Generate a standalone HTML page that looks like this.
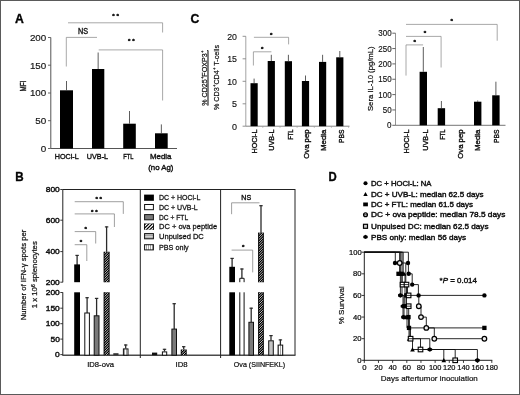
<!DOCTYPE html>
<html lang="en"><head><meta charset="utf-8"><title>Figure</title>
<style>
html,body{margin:0;padding:0;background:#fff;}
svg{display:block;font-family:"Liberation Sans",sans-serif;}
text{stroke:#111;stroke-width:0.38px;}
</style></head><body>
<svg width="520" height="395" viewBox="0 0 520 395">
<defs>
<pattern id="hatch" patternUnits="userSpaceOnUse" width="2" height="1.6" patternTransform="rotate(-40)"><rect width="2" height="1.6" fill="#c8c8c8"/><rect width="2" height="1.05" fill="#000"/></pattern>
<pattern id="vl" patternUnits="userSpaceOnUse" width="2" height="2"><rect width="2" height="2" fill="#fff"/><rect width="0.6" height="2" fill="#666"/></pattern>
<pattern id="hl" patternUnits="userSpaceOnUse" width="2" height="1.6"><rect width="2" height="1.6" fill="#ddd"/><rect width="2" height="0.6" fill="#888"/></pattern>
</defs>
<rect x="0.5" y="0.5" width="519" height="394" fill="#fff" stroke="#5a5a5a" stroke-width="1"/>
<text x="15" y="22.7" font-size="13" textLength="8.8" lengthAdjust="spacingAndGlyphs" font-weight="bold" fill="#000">A</text>
<line x1="50.8" y1="37.5" x2="50.8" y2="148.5" stroke="#555" stroke-width="1" />
<line x1="50.8" y1="148.5" x2="177" y2="148.5" stroke="#555" stroke-width="1" />
<line x1="48" y1="37.5" x2="50.8" y2="37.5" stroke="#555" stroke-width="0.9" />
<text x="46.3" y="40.9" font-size="9.6" text-anchor="end" textLength="16.4" lengthAdjust="spacingAndGlyphs" style="stroke-width:0.15px" fill="#111">200</text>
<line x1="48" y1="65.2" x2="50.8" y2="65.2" stroke="#555" stroke-width="0.9" />
<text x="46.3" y="68.60000000000001" font-size="9.6" text-anchor="end" textLength="16.4" lengthAdjust="spacingAndGlyphs" style="stroke-width:0.15px" fill="#111">150</text>
<line x1="48" y1="93" x2="50.8" y2="93" stroke="#555" stroke-width="0.9" />
<text x="46.3" y="96.4" font-size="9.6" text-anchor="end" textLength="16.4" lengthAdjust="spacingAndGlyphs" style="stroke-width:0.15px" fill="#111">100</text>
<line x1="48" y1="120.7" x2="50.8" y2="120.7" stroke="#555" stroke-width="0.9" />
<text x="46.3" y="124.10000000000001" font-size="9.6" text-anchor="end" textLength="11" lengthAdjust="spacingAndGlyphs" style="stroke-width:0.15px" fill="#111">50</text>
<line x1="48" y1="148.5" x2="50.8" y2="148.5" stroke="#555" stroke-width="0.9" />
<text x="46.3" y="151.9" font-size="9.6" text-anchor="end" textLength="5.5" lengthAdjust="spacingAndGlyphs" style="stroke-width:0.15px" fill="#111">0</text>
<text x="26" y="86" font-size="8.4" text-anchor="middle" textLength="11" lengthAdjust="spacingAndGlyphs" transform="rotate(-90 26 86)" fill="#111">MFI</text>
<rect x="60.00" y="90.30" width="13.00" height="58.20" fill="#000" stroke="none" stroke-width="1"/>
<line x1="66.5" y1="81" x2="66.5" y2="90.3" stroke="#333" stroke-width="0.8" />
<rect x="92.00" y="69.00" width="12.30" height="79.50" fill="#000" stroke="none" stroke-width="1"/>
<line x1="98.15" y1="52.5" x2="98.15" y2="69" stroke="#333" stroke-width="0.8" />
<rect x="123.20" y="123.70" width="12.60" height="24.80" fill="#000" stroke="none" stroke-width="1"/>
<line x1="129.5" y1="111" x2="129.5" y2="123.7" stroke="#333" stroke-width="0.8" />
<rect x="155.00" y="133.30" width="12.70" height="15.20" fill="#000" stroke="none" stroke-width="1"/>
<line x1="161.35" y1="124.4" x2="161.35" y2="133.3" stroke="#333" stroke-width="0.8" />
<text x="54.7" y="159.3" font-size="7.7" textLength="24.0" lengthAdjust="spacingAndGlyphs" fill="#111">HOCl-L</text>
<text x="86.8" y="159.3" font-size="7.7" textLength="21.3" lengthAdjust="spacingAndGlyphs" fill="#111">UVB-L</text>
<text x="123.2" y="159.3" font-size="7.7" textLength="10.3" lengthAdjust="spacingAndGlyphs" fill="#111">FTL</text>
<text x="150" y="159.3" font-size="7.7" textLength="21.5" lengthAdjust="spacingAndGlyphs" fill="#111">Media</text>
<text x="148.2" y="169.5" font-size="7.7" textLength="25.3" lengthAdjust="spacingAndGlyphs" fill="#111">(no Ag)</text>
<polyline points="68,22.8 162.6,22.8 162.6,32.5" fill="none" stroke="#7a7a7a" stroke-width="0.65"/>
<polyline points="66.3,66.5 66.3,37.4 97,37.4" fill="none" stroke="#7a7a7a" stroke-width="0.65"/>
<polyline points="98.7,49.9 162.6,49.9 162.6,100.5" fill="none" stroke="#7a7a7a" stroke-width="0.65"/>
<text x="83" y="34" font-size="8.2" text-anchor="middle" textLength="10" lengthAdjust="spacingAndGlyphs" fill="#111">NS</text>
<text x="113.5" y="18.0" font-size="6.2" text-anchor="middle" font-weight="bold" fill="#000">*</text>
<text x="117.7" y="18.0" font-size="6.2" text-anchor="middle" font-weight="bold" fill="#000">*</text>
<text x="129.3" y="42.6" font-size="6.2" text-anchor="middle" font-weight="bold" fill="#000">*</text>
<text x="133.5" y="42.6" font-size="6.2" text-anchor="middle" font-weight="bold" fill="#000">*</text>
<text x="190.4" y="22.8" font-size="13" textLength="8.8" lengthAdjust="spacingAndGlyphs" font-weight="bold" fill="#000">C</text>
<line x1="245.8" y1="36.3" x2="245.8" y2="126.2" stroke="#8c8c8c" stroke-width="0.8" />
<line x1="245.8" y1="126.2" x2="349.5" y2="126.2" stroke="#777" stroke-width="0.9" />
<line x1="242.6" y1="36.3" x2="245.8" y2="36.3" stroke="#777" stroke-width="0.8" />
<text x="237" y="39.699999999999996" font-size="9.6" text-anchor="end" textLength="9.8" lengthAdjust="spacingAndGlyphs" style="stroke-width:0.15px" fill="#111">20</text>
<line x1="242.6" y1="58.8" x2="245.8" y2="58.8" stroke="#777" stroke-width="0.8" />
<text x="237" y="62.199999999999996" font-size="9.6" text-anchor="end" textLength="9.8" lengthAdjust="spacingAndGlyphs" style="stroke-width:0.15px" fill="#111">15</text>
<line x1="242.6" y1="81.3" x2="245.8" y2="81.3" stroke="#777" stroke-width="0.8" />
<text x="237" y="84.7" font-size="9.6" text-anchor="end" textLength="9.8" lengthAdjust="spacingAndGlyphs" style="stroke-width:0.15px" fill="#111">10</text>
<line x1="242.6" y1="103.8" x2="245.8" y2="103.8" stroke="#777" stroke-width="0.8" />
<text x="237" y="107.2" font-size="9.6" text-anchor="end" textLength="5" lengthAdjust="spacingAndGlyphs" style="stroke-width:0.15px" fill="#111">5</text>
<line x1="242.6" y1="126.2" x2="245.8" y2="126.2" stroke="#777" stroke-width="0.8" />
<text x="237" y="129.6" font-size="9.6" text-anchor="end" textLength="5" lengthAdjust="spacingAndGlyphs" style="stroke-width:0.15px" fill="#111">0</text>
<text x="206.6" y="78.2" font-size="8" text-anchor="middle" textLength="55" lengthAdjust="spacingAndGlyphs" transform="rotate(-90 206.6 78.2)" style="text-decoration:underline;stroke-width:0.22px" fill="#111">% CD25⁺FOXP3⁺</text>
<text x="218.6" y="77.5" font-size="8" text-anchor="middle" textLength="65" lengthAdjust="spacingAndGlyphs" transform="rotate(-90 218.6 77.5)" style="stroke-width:0.22px" fill="#111">% CD3⁺CD4⁺ T-cells</text>
<rect x="250.50" y="83.20" width="7.20" height="43.00" fill="#000" stroke="none" stroke-width="1"/>
<line x1="254.1" y1="78.6" x2="254.1" y2="83.2" stroke="#333" stroke-width="0.8" />
<rect x="267.70" y="61.00" width="7.20" height="65.20" fill="#000" stroke="none" stroke-width="1"/>
<line x1="271.3" y1="54.8" x2="271.3" y2="61" stroke="#333" stroke-width="0.8" />
<rect x="284.80" y="61.20" width="7.20" height="65.00" fill="#000" stroke="none" stroke-width="1"/>
<line x1="288.40000000000003" y1="54.8" x2="288.40000000000003" y2="61.2" stroke="#333" stroke-width="0.8" />
<rect x="301.90" y="81.00" width="7.20" height="45.20" fill="#000" stroke="none" stroke-width="1"/>
<line x1="305.5" y1="75.5" x2="305.5" y2="81" stroke="#333" stroke-width="0.8" />
<rect x="319.00" y="61.90" width="7.20" height="64.30" fill="#000" stroke="none" stroke-width="1"/>
<line x1="322.6" y1="54.8" x2="322.6" y2="61.9" stroke="#333" stroke-width="0.8" />
<rect x="336.20" y="57.30" width="7.20" height="68.90" fill="#000" stroke="none" stroke-width="1"/>
<line x1="339.8" y1="51" x2="339.8" y2="57.3" stroke="#333" stroke-width="0.8" />
<text x="256.8" y="129.5" font-size="7.7" text-anchor="end" textLength="24" lengthAdjust="spacingAndGlyphs" transform="rotate(-90 256.8 129.5)" fill="#111">HOCl-L</text>
<text x="274.3" y="129.5" font-size="7.7" text-anchor="end" textLength="21.3" lengthAdjust="spacingAndGlyphs" transform="rotate(-90 274.3 129.5)" fill="#111">UVB-L</text>
<text x="292.6" y="129.5" font-size="7.7" text-anchor="end" textLength="10.3" lengthAdjust="spacingAndGlyphs" transform="rotate(-90 292.6 129.5)" fill="#111">FTL</text>
<text x="308.8" y="129.5" font-size="7.7" text-anchor="end" textLength="29.2" lengthAdjust="spacingAndGlyphs" transform="rotate(-90 308.8 129.5)" fill="#111">Ova pep</text>
<text x="325.8" y="129.5" font-size="7.7" text-anchor="end" textLength="21.5" lengthAdjust="spacingAndGlyphs" transform="rotate(-90 325.8 129.5)" fill="#111">Media</text>
<text x="343.8" y="129.5" font-size="7.7" text-anchor="end" textLength="13.5" lengthAdjust="spacingAndGlyphs" transform="rotate(-90 343.8 129.5)" fill="#111">PBS</text>
<line x1="262.8" y1="126.2" x2="262.8" y2="127.8" stroke="#999" stroke-width="0.7" />
<line x1="280" y1="126.2" x2="280" y2="127.8" stroke="#999" stroke-width="0.7" />
<line x1="297.1" y1="126.2" x2="297.1" y2="127.8" stroke="#999" stroke-width="0.7" />
<line x1="314.3" y1="126.2" x2="314.3" y2="127.8" stroke="#999" stroke-width="0.7" />
<line x1="331.4" y1="126.2" x2="331.4" y2="127.8" stroke="#999" stroke-width="0.7" />
<line x1="348.6" y1="126.2" x2="348.6" y2="127.8" stroke="#999" stroke-width="0.7" />
<polyline points="253.9,37.3 288.6,37.3 288.6,44.4" fill="none" stroke="#7a7a7a" stroke-width="0.65"/>
<polyline points="253.4,65.5 253.4,51.8 271.4,51.8" fill="none" stroke="#7a7a7a" stroke-width="0.65"/>
<text x="262.3" y="50.5" font-size="6.2" text-anchor="middle" font-weight="bold" fill="#000">*</text>
<text x="271.2" y="37.0" font-size="6.2" text-anchor="middle" font-weight="bold" fill="#000">*</text>
<line x1="395.5" y1="33.2" x2="395.5" y2="125.3" stroke="#777" stroke-width="0.8" />
<line x1="395.5" y1="125.3" x2="505.5" y2="125.3" stroke="#666" stroke-width="0.9" />
<line x1="392.3" y1="33.2" x2="395.5" y2="33.2" stroke="#555" stroke-width="0.9" />
<text x="391.6" y="36.300000000000004" font-size="8.8" text-anchor="end" textLength="13.3" lengthAdjust="spacingAndGlyphs" style="stroke-width:0.15px" fill="#111">300</text>
<line x1="392.3" y1="48.550000000000004" x2="395.5" y2="48.550000000000004" stroke="#555" stroke-width="0.9" />
<text x="391.6" y="51.650000000000006" font-size="8.8" text-anchor="end" textLength="13.3" lengthAdjust="spacingAndGlyphs" style="stroke-width:0.15px" fill="#111">250</text>
<line x1="392.3" y1="63.900000000000006" x2="395.5" y2="63.900000000000006" stroke="#555" stroke-width="0.9" />
<text x="391.6" y="67.0" font-size="8.8" text-anchor="end" textLength="13.3" lengthAdjust="spacingAndGlyphs" style="stroke-width:0.15px" fill="#111">200</text>
<line x1="392.3" y1="79.25" x2="395.5" y2="79.25" stroke="#555" stroke-width="0.9" />
<text x="391.6" y="82.35" font-size="8.8" text-anchor="end" textLength="13.3" lengthAdjust="spacingAndGlyphs" style="stroke-width:0.15px" fill="#111">150</text>
<line x1="392.3" y1="94.6" x2="395.5" y2="94.6" stroke="#555" stroke-width="0.9" />
<text x="391.6" y="97.69999999999999" font-size="8.8" text-anchor="end" textLength="13.3" lengthAdjust="spacingAndGlyphs" style="stroke-width:0.15px" fill="#111">100</text>
<line x1="392.3" y1="109.95" x2="395.5" y2="109.95" stroke="#555" stroke-width="0.9" />
<text x="391.6" y="113.05" font-size="8.8" text-anchor="end" textLength="8.9" lengthAdjust="spacingAndGlyphs" style="stroke-width:0.15px" fill="#111">50</text>
<line x1="392.3" y1="125.3" x2="395.5" y2="125.3" stroke="#555" stroke-width="0.9" />
<text x="391.6" y="128.4" font-size="8.8" text-anchor="end" textLength="4.5" lengthAdjust="spacingAndGlyphs" style="stroke-width:0.15px" fill="#111">0</text>
<text x="373" y="78.7" font-size="8" text-anchor="middle" textLength="64.6" lengthAdjust="spacingAndGlyphs" transform="rotate(-90 373 78.7)" style="stroke-width:0.22px" fill="#111">Sera IL-10 (pg/mL)</text>
<rect x="419.60" y="71.80" width="7.40" height="53.50" fill="#000" stroke="none" stroke-width="1"/>
<line x1="423.3" y1="47" x2="423.3" y2="71.8" stroke="#333" stroke-width="0.8" />
<rect x="437.70" y="108.20" width="7.40" height="17.10" fill="#000" stroke="none" stroke-width="1"/>
<line x1="441.4" y1="101" x2="441.4" y2="108.2" stroke="#333" stroke-width="0.8" />
<rect x="474.00" y="101.70" width="7.40" height="23.60" fill="#000" stroke="none" stroke-width="1"/>
<line x1="477.7" y1="100.5" x2="477.7" y2="101.7" stroke="#333" stroke-width="0.8" />
<rect x="492.20" y="95.30" width="7.40" height="30.00" fill="#000" stroke="none" stroke-width="1"/>
<line x1="495.9" y1="81.7" x2="495.9" y2="95.3" stroke="#333" stroke-width="0.8" />
<text x="409.3" y="129.5" font-size="7.7" text-anchor="end" textLength="24" lengthAdjust="spacingAndGlyphs" transform="rotate(-90 409.3 129.5)" fill="#111">HOCl-L</text>
<text x="427.6" y="129.5" font-size="7.7" text-anchor="end" textLength="21.3" lengthAdjust="spacingAndGlyphs" transform="rotate(-90 427.6 129.5)" fill="#111">UVB-L</text>
<text x="445.20000000000005" y="129.5" font-size="7.7" text-anchor="end" textLength="10.3" lengthAdjust="spacingAndGlyphs" transform="rotate(-90 445.20000000000005 129.5)" fill="#111">FTL</text>
<text x="463.3" y="129.5" font-size="7.7" text-anchor="end" textLength="29.2" lengthAdjust="spacingAndGlyphs" transform="rotate(-90 463.3 129.5)" fill="#111">Ova pep</text>
<text x="480.20000000000005" y="129.5" font-size="7.7" text-anchor="end" textLength="21.5" lengthAdjust="spacingAndGlyphs" transform="rotate(-90 480.20000000000005 129.5)" fill="#111">Media</text>
<text x="498.8" y="129.5" font-size="7.7" text-anchor="end" textLength="13.5" lengthAdjust="spacingAndGlyphs" transform="rotate(-90 498.8 129.5)" fill="#111">PBS</text>
<polyline points="406,24.4 497.2,24.4 497.2,40.7" fill="none" stroke="#7a7a7a" stroke-width="0.65"/>
<polyline points="406,36.4 441.1,36.4 441.1,67.5" fill="none" stroke="#7a7a7a" stroke-width="0.65"/>
<polyline points="406,75.6 406,44.9 423.1,44.9" fill="none" stroke="#7a7a7a" stroke-width="0.65"/>
<text x="451.7" y="23.3" font-size="6.2" text-anchor="middle" font-weight="bold" fill="#000">*</text>
<text x="425.0" y="35.3" font-size="6.2" text-anchor="middle" font-weight="bold" fill="#000">*</text>
<text x="414.7" y="44.4" font-size="6.2" text-anchor="middle" font-weight="bold" fill="#000">*</text>
<text x="15.2" y="181" font-size="13" textLength="8.4" lengthAdjust="spacingAndGlyphs" font-weight="bold" fill="#000">B</text>
<line x1="62.8" y1="189.5" x2="295" y2="189.5" stroke="#222" stroke-width="1" />
<line x1="295" y1="189" x2="295" y2="355.2" stroke="#222" stroke-width="1" />
<line x1="62.8" y1="189.5" x2="62.8" y2="282.3" stroke="#222" stroke-width="1" />
<line x1="62.8" y1="292.3" x2="62.8" y2="355.2" stroke="#222" stroke-width="1" />
<line x1="62.3" y1="355.2" x2="295.5" y2="355.2" stroke="#4a4a4a" stroke-width="1.6" />
<line x1="140.3" y1="189.5" x2="140.3" y2="358" stroke="#222" stroke-width="1" />
<line x1="220.6" y1="189.5" x2="220.6" y2="358" stroke="#222" stroke-width="1" />
<line x1="60.3" y1="189.5" x2="62.8" y2="189.5" stroke="#222" stroke-width="0.9" />
<text x="59.8" y="192.1" font-size="7.2" text-anchor="end" textLength="14" lengthAdjust="spacingAndGlyphs" fill="#000">800</text>
<line x1="60.3" y1="220.2" x2="62.8" y2="220.2" stroke="#222" stroke-width="0.9" />
<text x="59.8" y="222.79999999999998" font-size="7.2" text-anchor="end" textLength="14" lengthAdjust="spacingAndGlyphs" fill="#000">600</text>
<line x1="60.3" y1="251.6" x2="62.8" y2="251.6" stroke="#222" stroke-width="0.9" />
<text x="59.8" y="254.2" font-size="7.2" text-anchor="end" textLength="14" lengthAdjust="spacingAndGlyphs" fill="#000">400</text>
<line x1="60.3" y1="282.2" x2="62.8" y2="282.2" stroke="#222" stroke-width="0.9" />
<text x="59.8" y="284.8" font-size="7.2" text-anchor="end" textLength="14" lengthAdjust="spacingAndGlyphs" fill="#000">200</text>
<line x1="60.3" y1="292.5" x2="62.8" y2="292.5" stroke="#222" stroke-width="0.9" />
<text x="59.8" y="295.1" font-size="7.2" text-anchor="end" textLength="14" lengthAdjust="spacingAndGlyphs" fill="#000">200</text>
<line x1="60.3" y1="308.2" x2="62.8" y2="308.2" stroke="#222" stroke-width="0.9" />
<text x="59.8" y="310.8" font-size="7.2" text-anchor="end" textLength="14" lengthAdjust="spacingAndGlyphs" fill="#000">150</text>
<line x1="60.3" y1="323.7" x2="62.8" y2="323.7" stroke="#222" stroke-width="0.9" />
<text x="59.8" y="326.3" font-size="7.2" text-anchor="end" textLength="14" lengthAdjust="spacingAndGlyphs" fill="#000">100</text>
<line x1="60.3" y1="339.1" x2="62.8" y2="339.1" stroke="#222" stroke-width="0.9" />
<text x="59.8" y="341.70000000000005" font-size="7.2" text-anchor="end" textLength="9.3" lengthAdjust="spacingAndGlyphs" fill="#000">50</text>
<line x1="60.3" y1="354.6" x2="62.8" y2="354.6" stroke="#222" stroke-width="0.9" />
<text x="59.8" y="357.20000000000005" font-size="7.2" text-anchor="end" textLength="4.7" lengthAdjust="spacingAndGlyphs" fill="#000">0</text>
<text x="26.4" y="275" font-size="7.6" text-anchor="middle" textLength="90.5" lengthAdjust="spacingAndGlyphs" transform="rotate(-90 26.4 275)" style="stroke-width:0.25px" fill="#222">Number of IFN-γ spots per</text>
<text x="37.3" y="274.7" font-size="7.6" text-anchor="middle" textLength="67" lengthAdjust="spacingAndGlyphs" transform="rotate(-90 37.3 274.7)" style="stroke-width:0.25px" fill="#222">1 x 10<tspan font-size="5" dy="-2.5">6</tspan><tspan dy="2.5"> splenocytes</tspan></text>
<line x1="77.1" y1="255" x2="77.1" y2="265" stroke="#2a2a2a" stroke-width="1.3" />
<line x1="75.39999999999999" y1="255.4" x2="78.8" y2="255.4" stroke="#2a2a2a" stroke-width="1.2" />
<rect x="74.20" y="264.40" width="5.80" height="17.80" fill="#000" stroke="none" stroke-width="1"/>
<rect x="74.20" y="292.30" width="5.80" height="62.90" fill="#000" stroke="none" stroke-width="1"/>
<line x1="87.1" y1="297.3" x2="87.1" y2="313" stroke="#2a2a2a" stroke-width="1.3" />
<line x1="85.39999999999999" y1="297.7" x2="88.8" y2="297.7" stroke="#2a2a2a" stroke-width="1.2" />
<rect x="84.80" y="313.00" width="4.60" height="42.20" fill="#fff" stroke="#111" stroke-width="1"/>
<line x1="96.6" y1="298" x2="96.6" y2="316" stroke="#2a2a2a" stroke-width="1.3" />
<line x1="94.89999999999999" y1="298.4" x2="98.3" y2="298.4" stroke="#2a2a2a" stroke-width="1.2" />
<rect x="94.20" y="315.80" width="4.80" height="39.40" fill="#7a7a7a" stroke="#111" stroke-width="1"/>
<line x1="106.6" y1="226.5" x2="106.6" y2="252" stroke="#2a2a2a" stroke-width="1.3" />
<line x1="104.89999999999999" y1="226.9" x2="108.3" y2="226.9" stroke="#2a2a2a" stroke-width="1.2" />
<clipPath id="c1"><rect x="103.80" y="251.80" width="5.60" height="30.40"/></clipPath>
<rect x="103.80" y="251.80" width="5.60" height="30.40" fill="#000"/>
<path d="M103.30,252.30 L109.90,245.70 M103.30,254.80 L109.90,248.20 M103.30,257.30 L109.90,250.70 M103.30,259.80 L109.90,253.20 M103.30,262.30 L109.90,255.70 M103.30,264.80 L109.90,258.20 M103.30,267.30 L109.90,260.70 M103.30,269.80 L109.90,263.20 M103.30,272.30 L109.90,265.70 M103.30,274.80 L109.90,268.20 M103.30,277.30 L109.90,270.70 M103.30,279.80 L109.90,273.20 M103.30,282.30 L109.90,275.70 M103.30,284.80 L109.90,278.20 M103.30,287.30 L109.90,280.70" stroke="#d8d8d8" stroke-width="0.9" fill="none" clip-path="url(#c1)"/>
<path d="M104.20,251.80 v30.40 M109.00,251.80 v30.40" stroke="#000" stroke-width="0.8" fill="none"/>
<clipPath id="c2"><rect x="103.80" y="292.30" width="5.60" height="62.90"/></clipPath>
<rect x="103.80" y="292.30" width="5.60" height="62.90" fill="#000"/>
<path d="M103.30,292.80 L109.90,286.20 M103.30,295.30 L109.90,288.70 M103.30,297.80 L109.90,291.20 M103.30,300.30 L109.90,293.70 M103.30,302.80 L109.90,296.20 M103.30,305.30 L109.90,298.70 M103.30,307.80 L109.90,301.20 M103.30,310.30 L109.90,303.70 M103.30,312.80 L109.90,306.20 M103.30,315.30 L109.90,308.70 M103.30,317.80 L109.90,311.20 M103.30,320.30 L109.90,313.70 M103.30,322.80 L109.90,316.20 M103.30,325.30 L109.90,318.70 M103.30,327.80 L109.90,321.20 M103.30,330.30 L109.90,323.70 M103.30,332.80 L109.90,326.20 M103.30,335.30 L109.90,328.70 M103.30,337.80 L109.90,331.20 M103.30,340.30 L109.90,333.70 M103.30,342.80 L109.90,336.20 M103.30,345.30 L109.90,338.70 M103.30,347.80 L109.90,341.20 M103.30,350.30 L109.90,343.70 M103.30,352.80 L109.90,346.20 M103.30,355.30 L109.90,348.70 M103.30,357.80 L109.90,351.20 M103.30,360.30 L109.90,353.70" stroke="#d8d8d8" stroke-width="0.9" fill="none" clip-path="url(#c2)"/>
<path d="M104.20,292.30 v62.90 M109.00,292.30 v62.90" stroke="#000" stroke-width="0.8" fill="none"/>
<rect x="113.30" y="353.20" width="5.20" height="2.00" fill="#333" stroke="none" stroke-width="1"/>
<line x1="125.7" y1="344.6" x2="125.7" y2="348.5" stroke="#2a2a2a" stroke-width="1.3" />
<line x1="124.0" y1="345.0" x2="127.4" y2="345.0" stroke="#2a2a2a" stroke-width="1.2" />
<rect x="123.40" y="348.90" width="4.60" height="6.30" fill="url(#vl)" stroke="#111" stroke-width="1"/>
<rect x="152.00" y="352.60" width="5.20" height="2.60" fill="#111" stroke="none" stroke-width="1"/>
<line x1="164.5" y1="348.9" x2="164.5" y2="351.5" stroke="#2a2a2a" stroke-width="1.3" />
<line x1="162.8" y1="349.29999999999995" x2="166.2" y2="349.29999999999995" stroke="#2a2a2a" stroke-width="1.2" />
<rect x="162.40" y="351.90" width="4.30" height="3.30" fill="#fff" stroke="#111" stroke-width="1"/>
<line x1="174.2" y1="303.3" x2="174.2" y2="329" stroke="#2a2a2a" stroke-width="1.3" />
<line x1="172.5" y1="303.7" x2="175.89999999999998" y2="303.7" stroke="#2a2a2a" stroke-width="1.2" />
<rect x="171.90" y="329.10" width="4.60" height="26.10" fill="#7a7a7a" stroke="#111" stroke-width="1"/>
<line x1="183.7" y1="346.3" x2="183.7" y2="350" stroke="#2a2a2a" stroke-width="1.3" />
<line x1="182.0" y1="346.7" x2="185.39999999999998" y2="346.7" stroke="#2a2a2a" stroke-width="1.2" />
<clipPath id="c3"><rect x="180.90" y="349.60" width="5.60" height="5.60"/></clipPath>
<rect x="180.90" y="349.60" width="5.60" height="5.60" fill="#000"/>
<path d="M180.40,350.10 L187.00,343.50 M180.40,352.60 L187.00,346.00 M180.40,355.10 L187.00,348.50 M180.40,357.60 L187.00,351.00 M180.40,360.10 L187.00,353.50" stroke="#d8d8d8" stroke-width="0.9" fill="none" clip-path="url(#c3)"/>
<path d="M181.30,349.60 v5.60 M186.10,349.60 v5.60" stroke="#000" stroke-width="0.8" fill="none"/>
<line x1="232.1" y1="258" x2="232.1" y2="267" stroke="#2a2a2a" stroke-width="1.3" />
<line x1="230.4" y1="258.4" x2="233.79999999999998" y2="258.4" stroke="#2a2a2a" stroke-width="1.2" />
<rect x="229.30" y="266.80" width="5.70" height="15.40" fill="#000" stroke="none" stroke-width="1"/>
<rect x="229.30" y="292.30" width="5.70" height="62.90" fill="#000" stroke="none" stroke-width="1"/>
<line x1="241.9" y1="268.6" x2="241.9" y2="278" stroke="#2a2a2a" stroke-width="1.3" />
<line x1="240.20000000000002" y1="269.0" x2="243.6" y2="269.0" stroke="#2a2a2a" stroke-width="1.2" />
<path d="M239.8,282.2 V278.3 H244.1 V282.2 M239.8,292.3 V355.2 M244.1,292.3 V355.2" fill="none" stroke="#111" stroke-width="1"/>
<line x1="251.2" y1="307.8" x2="251.2" y2="322" stroke="#2a2a2a" stroke-width="1.3" />
<line x1="249.5" y1="308.2" x2="252.89999999999998" y2="308.2" stroke="#2a2a2a" stroke-width="1.2" />
<rect x="248.90" y="322.30" width="4.60" height="32.90" fill="#7a7a7a" stroke="#111" stroke-width="1"/>
<line x1="261" y1="205.3" x2="261" y2="233" stroke="#2a2a2a" stroke-width="1.3" />
<line x1="259.3" y1="205.70000000000002" x2="262.7" y2="205.70000000000002" stroke="#2a2a2a" stroke-width="1.2" />
<clipPath id="c4"><rect x="258.20" y="232.70" width="5.50" height="49.50"/></clipPath>
<rect x="258.20" y="232.70" width="5.50" height="49.50" fill="#000"/>
<path d="M257.70,233.20 L264.20,226.70 M257.70,235.70 L264.20,229.20 M257.70,238.20 L264.20,231.70 M257.70,240.70 L264.20,234.20 M257.70,243.20 L264.20,236.70 M257.70,245.70 L264.20,239.20 M257.70,248.20 L264.20,241.70 M257.70,250.70 L264.20,244.20 M257.70,253.20 L264.20,246.70 M257.70,255.70 L264.20,249.20 M257.70,258.20 L264.20,251.70 M257.70,260.70 L264.20,254.20 M257.70,263.20 L264.20,256.70 M257.70,265.70 L264.20,259.20 M257.70,268.20 L264.20,261.70 M257.70,270.70 L264.20,264.20 M257.70,273.20 L264.20,266.70 M257.70,275.70 L264.20,269.20 M257.70,278.20 L264.20,271.70 M257.70,280.70 L264.20,274.20 M257.70,283.20 L264.20,276.70 M257.70,285.70 L264.20,279.20 M257.70,288.20 L264.20,281.70" stroke="#d8d8d8" stroke-width="0.9" fill="none" clip-path="url(#c4)"/>
<path d="M258.60,232.70 v49.50 M263.30,232.70 v49.50" stroke="#000" stroke-width="0.8" fill="none"/>
<clipPath id="c5"><rect x="258.20" y="292.30" width="5.50" height="62.90"/></clipPath>
<rect x="258.20" y="292.30" width="5.50" height="62.90" fill="#000"/>
<path d="M257.70,292.80 L264.20,286.30 M257.70,295.30 L264.20,288.80 M257.70,297.80 L264.20,291.30 M257.70,300.30 L264.20,293.80 M257.70,302.80 L264.20,296.30 M257.70,305.30 L264.20,298.80 M257.70,307.80 L264.20,301.30 M257.70,310.30 L264.20,303.80 M257.70,312.80 L264.20,306.30 M257.70,315.30 L264.20,308.80 M257.70,317.80 L264.20,311.30 M257.70,320.30 L264.20,313.80 M257.70,322.80 L264.20,316.30 M257.70,325.30 L264.20,318.80 M257.70,327.80 L264.20,321.30 M257.70,330.30 L264.20,323.80 M257.70,332.80 L264.20,326.30 M257.70,335.30 L264.20,328.80 M257.70,337.80 L264.20,331.30 M257.70,340.30 L264.20,333.80 M257.70,342.80 L264.20,336.30 M257.70,345.30 L264.20,338.80 M257.70,347.80 L264.20,341.30 M257.70,350.30 L264.20,343.80 M257.70,352.80 L264.20,346.30 M257.70,355.30 L264.20,348.80 M257.70,357.80 L264.20,351.30 M257.70,360.30 L264.20,353.80" stroke="#d8d8d8" stroke-width="0.9" fill="none" clip-path="url(#c5)"/>
<path d="M258.60,292.30 v62.90 M263.30,292.30 v62.90" stroke="#000" stroke-width="0.8" fill="none"/>
<line x1="271" y1="335.2" x2="271" y2="340.5" stroke="#2a2a2a" stroke-width="1.3" />
<line x1="269.3" y1="335.59999999999997" x2="272.7" y2="335.59999999999997" stroke="#2a2a2a" stroke-width="1.2" />
<rect x="268.70" y="340.80" width="4.60" height="14.40" fill="#c4c4c4" stroke="#111" stroke-width="1"/>
<line x1="280.4" y1="339.5" x2="280.4" y2="345" stroke="#2a2a2a" stroke-width="1.3" />
<line x1="278.7" y1="339.9" x2="282.09999999999997" y2="339.9" stroke="#2a2a2a" stroke-width="1.2" />
<rect x="278.10" y="345.10" width="4.60" height="10.10" fill="url(#vl)" stroke="#111" stroke-width="1"/>
<polyline points="74.7,201.7 123.3,201.7 123.3,213.9" fill="none" stroke="#777" stroke-width="0.7"/>
<polyline points="74.7,213.9 114.4,213.9 114.4,227" fill="none" stroke="#777" stroke-width="0.7"/>
<polyline points="74.7,231.6 95.7,231.6 95.7,243.5" fill="none" stroke="#777" stroke-width="0.7"/>
<polyline points="74.7,244.7 86.8,244.7 86.8,261" fill="none" stroke="#777" stroke-width="0.7"/>
<text x="96.6" y="200.5" font-size="6.2" text-anchor="middle" font-weight="bold" fill="#000">*</text>
<text x="100.8" y="200.5" font-size="6.2" text-anchor="middle" font-weight="bold" fill="#000">*</text>
<text x="92.3" y="213.7" font-size="6.2" text-anchor="middle" font-weight="bold" fill="#000">*</text>
<text x="96.5" y="213.7" font-size="6.2" text-anchor="middle" font-weight="bold" fill="#000">*</text>
<text x="85.6" y="230.9" font-size="6.2" text-anchor="middle" font-weight="bold" fill="#000">*</text>
<text x="81.0" y="244.1" font-size="6.2" text-anchor="middle" font-weight="bold" fill="#000">*</text>
<polyline points="231.6,214.2 231.6,202.8 259.5,202.8" fill="none" stroke="#777" stroke-width="0.7"/>
<polyline points="231.6,250.1 252.7,250.1 252.7,272.4" fill="none" stroke="#777" stroke-width="0.7"/>
<text x="246.2" y="199.8" font-size="7.4" text-anchor="middle" textLength="9.8" lengthAdjust="spacingAndGlyphs" fill="#111">NS</text>
<text x="243.2" y="249.4" font-size="6.2" text-anchor="middle" font-weight="bold" fill="#000">*</text>
<text x="87.2" y="366.6" font-size="7.8" textLength="26.8" lengthAdjust="spacingAndGlyphs" style="stroke-width:0.22px" fill="#111">ID8-ova</text>
<text x="175.6" y="366.6" font-size="7.8" textLength="12.1" lengthAdjust="spacingAndGlyphs" style="stroke-width:0.22px" fill="#111">ID8</text>
<text x="233.8" y="366.6" font-size="7.8" textLength="51.4" lengthAdjust="spacingAndGlyphs" style="stroke-width:0.22px" fill="#111">Ova (SIINFEKL)</text>
<rect x="144.10" y="194.60" width="9.80" height="6.20" fill="#000" stroke="none" stroke-width="1"/>
<text x="159" y="200.39999999999998" font-size="7.8" textLength="41.3" lengthAdjust="spacingAndGlyphs" style="stroke-width:0.27px" fill="#111">DC + HOCl-L</text>
<rect x="144.60" y="204.50" width="8.80" height="5.20" fill="#fff" stroke="#111" stroke-width="1"/>
<text x="159" y="209.79999999999998" font-size="7.8" textLength="38.7" lengthAdjust="spacingAndGlyphs" style="stroke-width:0.27px" fill="#111">DC + UVB-L</text>
<rect x="144.60" y="214.60" width="8.80" height="5.20" fill="#7a7a7a" stroke="#111" stroke-width="1"/>
<text x="159" y="219.89999999999998" font-size="7.8" textLength="29.1" lengthAdjust="spacingAndGlyphs" style="stroke-width:0.27px" fill="#111">DC + FTL</text>
<clipPath id="c6"><rect x="144.10" y="223.50" width="9.80" height="6.20"/></clipPath>
<rect x="144.10" y="223.50" width="9.80" height="6.20" fill="#000"/>
<path d="M143.60,224.00 L154.40,213.20 M143.60,227.40 L154.40,216.60 M143.60,230.80 L154.40,220.00 M143.60,234.20 L154.40,223.40 M143.60,237.60 L154.40,226.80" stroke="#fff" stroke-width="1.2" fill="none" clip-path="url(#c6)"/>
<path d="M144.50,223.50 v6.20 M153.50,223.50 v6.20" stroke="#000" stroke-width="0.8" fill="none"/>
<text x="159" y="229.29999999999998" font-size="7.8" textLength="58.2" lengthAdjust="spacingAndGlyphs" style="stroke-width:0.27px" fill="#111">DC + ova peptide</text>
<rect x="144.60" y="233.60" width="8.80" height="5.20" fill="url(#hl)" stroke="#111" stroke-width="1"/>
<text x="159" y="238.89999999999998" font-size="7.8" textLength="44.8" lengthAdjust="spacingAndGlyphs" style="stroke-width:0.27px" fill="#111">Unpulsed DC</text>
<rect x="144.60" y="244.70" width="8.80" height="5.20" fill="url(#vl)" stroke="#111" stroke-width="1"/>
<text x="159" y="250.0" font-size="7.8" textLength="29.6" lengthAdjust="spacingAndGlyphs" style="stroke-width:0.27px" fill="#111">PBS only</text>
<text x="328.5" y="181" font-size="13" textLength="8.2" lengthAdjust="spacingAndGlyphs" font-weight="bold" fill="#000">D</text>
<circle cx="365.5" cy="183.3" r="2.0500000000000003" fill="#000"/>
<text x="371" y="185.9" font-size="7.3" textLength="60.5" lengthAdjust="spacingAndGlyphs" fill="#000">DC + HOCl-L: NA</text>
<polygon points="365.5,192.0 367.7,196.09999999999997 363.3,196.09999999999997" fill="#000"/>
<text x="371" y="196.79999999999998" font-size="7.3" textLength="112.5" lengthAdjust="spacingAndGlyphs" fill="#000">DC + UVB-L: median 62.5 days</text>
<rect x="363.20" y="202.50" width="4.70" height="3.80" fill="#000" stroke="none" stroke-width="1"/>
<text x="371" y="207.0" font-size="7.3" textLength="102" lengthAdjust="spacingAndGlyphs" fill="#000">DC + FTL: median 61.5 days</text>
<circle cx="365.5" cy="214.8" r="1.9" fill="#fff" stroke="#000" stroke-width="1.3"/>
<line x1="363.6" y1="214.8" x2="367.4" y2="214.8" stroke="#000" stroke-width="0.8" />
<text x="371" y="217.4" font-size="7.3" textLength="134.4" lengthAdjust="spacingAndGlyphs" fill="#000">DC + ova peptide: median 78.5 days</text>
<rect x="363.50" y="224.30" width="4.00" height="4.00" fill="#ccc" stroke="#000" stroke-width="1.2"/>
<text x="371" y="228.9" font-size="7.3" textLength="117.5" lengthAdjust="spacingAndGlyphs" fill="#000">Unpulsed DC: median 62.5 days</text>
<polygon points="365.5,234.70000000000002 367.7,235.91 367.7,237.89000000000001 365.5,239.1 363.3,237.89000000000001 363.3,235.91" fill="#000"/>
<text x="371" y="239.5" font-size="7.3" textLength="95" lengthAdjust="spacingAndGlyphs" fill="#000">PBS only: median 56 days</text>
<line x1="364.3" y1="251.7" x2="364.3" y2="360.8" stroke="#222" stroke-width="1" />
<line x1="363.8" y1="360.3" x2="492.3" y2="360.3" stroke="#222" stroke-width="1" />
<line x1="361.7" y1="360.3" x2="364.3" y2="360.3" stroke="#222" stroke-width="0.9" />
<text x="361.6" y="362.90000000000003" font-size="7.2" text-anchor="end" textLength="4.3" lengthAdjust="spacingAndGlyphs" style="stroke-width:0.2px" fill="#000">0</text>
<line x1="361.7" y1="338.68" x2="364.3" y2="338.68" stroke="#222" stroke-width="0.9" />
<text x="361.6" y="341.28000000000003" font-size="7.2" text-anchor="end" textLength="8.5" lengthAdjust="spacingAndGlyphs" style="stroke-width:0.2px" fill="#000">20</text>
<line x1="361.7" y1="317.06" x2="364.3" y2="317.06" stroke="#222" stroke-width="0.9" />
<text x="361.6" y="319.66" font-size="7.2" text-anchor="end" textLength="8.5" lengthAdjust="spacingAndGlyphs" style="stroke-width:0.2px" fill="#000">40</text>
<line x1="361.7" y1="295.44" x2="364.3" y2="295.44" stroke="#222" stroke-width="0.9" />
<text x="361.6" y="298.04" font-size="7.2" text-anchor="end" textLength="8.5" lengthAdjust="spacingAndGlyphs" style="stroke-width:0.2px" fill="#000">60</text>
<line x1="361.7" y1="273.82" x2="364.3" y2="273.82" stroke="#222" stroke-width="0.9" />
<text x="361.6" y="276.42" font-size="7.2" text-anchor="end" textLength="8.5" lengthAdjust="spacingAndGlyphs" style="stroke-width:0.2px" fill="#000">80</text>
<line x1="361.7" y1="252.2" x2="364.3" y2="252.2" stroke="#222" stroke-width="0.9" />
<text x="361.6" y="254.79999999999998" font-size="7.2" text-anchor="end" textLength="12.6" lengthAdjust="spacingAndGlyphs" style="stroke-width:0.2px" fill="#000">100</text>
<line x1="364.3" y1="360.3" x2="364.3" y2="362.90000000000003" stroke="#222" stroke-width="0.9" />
<text x="364.3" y="370.2" font-size="7.2" text-anchor="middle" textLength="4.3" lengthAdjust="spacingAndGlyphs" style="stroke-width:0.2px" fill="#000">0</text>
<line x1="378.4666666666667" y1="360.3" x2="378.4666666666667" y2="362.90000000000003" stroke="#222" stroke-width="0.9" />
<text x="378.4666666666667" y="370.2" font-size="7.2" text-anchor="middle" textLength="8.4" lengthAdjust="spacingAndGlyphs" style="stroke-width:0.2px" fill="#000">20</text>
<line x1="392.6333333333333" y1="360.3" x2="392.6333333333333" y2="362.90000000000003" stroke="#222" stroke-width="0.9" />
<text x="392.6333333333333" y="370.2" font-size="7.2" text-anchor="middle" textLength="8.4" lengthAdjust="spacingAndGlyphs" style="stroke-width:0.2px" fill="#000">40</text>
<line x1="406.8" y1="360.3" x2="406.8" y2="362.90000000000003" stroke="#222" stroke-width="0.9" />
<text x="406.8" y="370.2" font-size="7.2" text-anchor="middle" textLength="8.4" lengthAdjust="spacingAndGlyphs" style="stroke-width:0.2px" fill="#000">60</text>
<line x1="420.9666666666667" y1="360.3" x2="420.9666666666667" y2="362.90000000000003" stroke="#222" stroke-width="0.9" />
<text x="420.9666666666667" y="370.2" font-size="7.2" text-anchor="middle" textLength="8.4" lengthAdjust="spacingAndGlyphs" style="stroke-width:0.2px" fill="#000">80</text>
<line x1="435.1333333333333" y1="360.3" x2="435.1333333333333" y2="362.90000000000003" stroke="#222" stroke-width="0.9" />
<text x="435.1333333333333" y="370.2" font-size="7.2" text-anchor="middle" textLength="12.4" lengthAdjust="spacingAndGlyphs" style="stroke-width:0.2px" fill="#000">100</text>
<line x1="449.3" y1="360.3" x2="449.3" y2="362.90000000000003" stroke="#222" stroke-width="0.9" />
<text x="449.3" y="370.2" font-size="7.2" text-anchor="middle" textLength="12.4" lengthAdjust="spacingAndGlyphs" style="stroke-width:0.2px" fill="#000">120</text>
<line x1="463.4666666666667" y1="360.3" x2="463.4666666666667" y2="362.90000000000003" stroke="#222" stroke-width="0.9" />
<text x="463.4666666666667" y="370.2" font-size="7.2" text-anchor="middle" textLength="12.4" lengthAdjust="spacingAndGlyphs" style="stroke-width:0.2px" fill="#000">140</text>
<line x1="477.6333333333333" y1="360.3" x2="477.6333333333333" y2="362.90000000000003" stroke="#222" stroke-width="0.9" />
<text x="477.6333333333333" y="370.2" font-size="7.2" text-anchor="middle" textLength="12.4" lengthAdjust="spacingAndGlyphs" style="stroke-width:0.2px" fill="#000">160</text>
<line x1="491.8" y1="360.3" x2="491.8" y2="362.90000000000003" stroke="#222" stroke-width="0.9" />
<text x="491.8" y="370.2" font-size="7.2" text-anchor="middle" textLength="12.4" lengthAdjust="spacingAndGlyphs" style="stroke-width:0.2px" fill="#000">180</text>
<text x="380.8" y="380.7" font-size="7.6" textLength="97" lengthAdjust="spacingAndGlyphs" style="stroke-width:0.2px" fill="#111">Days aftertumor inoculation</text>
<text x="344.2" y="305.3" font-size="7.6" text-anchor="middle" textLength="38" lengthAdjust="spacingAndGlyphs" transform="rotate(-90 344.2 305.3)" style="stroke-width:0.2px" fill="#111">% Survival</text>
<text x="439.6" y="283" font-size="7.6" textLength="37.3" lengthAdjust="spacingAndGlyphs" fill="#000">*<tspan font-style="italic">P</tspan> = 0.014</text>
<polyline points="364.3,252.2 408.4,252.2 408.4,273.8 412.2,273.8 412.2,284.6 418.4,284.6 418.4,295.4 484.7,295.4" fill="none" stroke="#111" stroke-width="0.9"/>
<polyline points="364.3,252.2 399.6,252.2 399.6,273.8 402.0,273.8 402.0,295.4 404.0,295.4 404.0,317.1 409.2,317.1 409.2,327.9 484.7,327.9" fill="none" stroke="#111" stroke-width="0.9"/>
<polyline points="364.3,252.2 400.7,252.2 400.7,263.0 405.8,263.0 405.8,284.6 407.5,284.6 407.5,295.4 418.8,295.4 418.8,306.2 421.0,306.2 421.0,317.1 426.3,317.1 426.3,327.9 434.3,327.9 434.3,338.7 484.7,338.7" fill="none" stroke="#111" stroke-width="0.9"/>
<polyline points="364.3,252.2 402.0,252.2 402.0,284.6 406.5,284.6 406.5,306.2 408.7,306.2 408.7,327.9 410.4,327.9 410.4,338.7 420.5,338.7 420.5,349.5 455.2,349.5 455.2,360.3" fill="none" stroke="#111" stroke-width="0.9"/>
<polyline points="364.3,252.2 403.2,252.2 403.2,273.8 405.0,273.8 405.0,306.2 407.0,306.2 407.0,327.9 410.0,327.9 410.0,338.7 412.5,338.7 412.5,349.5 443.8,349.5 443.8,360.3" fill="none" stroke="#111" stroke-width="0.9"/>
<polyline points="364.3,252.2 395.3,252.2 395.3,263.0 400.4,263.0 400.4,295.4 403.0,295.4 403.0,317.1 409.0,317.1 409.0,338.7 429.8,338.7 429.8,349.5 477.4,349.5 477.4,360.3" fill="none" stroke="#111" stroke-width="0.9"/>
<circle cx="395" cy="263.0" r="2.2" fill="#000"/>
<circle cx="399.7" cy="263.0" r="2.3000000000000003" fill="#eee" stroke="#000" stroke-width="1.25"/>
<circle cx="408" cy="263.0" r="2.2" fill="#000"/>
<rect x="396.35" y="271.65" width="4.30" height="4.30" fill="#000" stroke="none" stroke-width="1"/>
<rect x="399.35" y="271.65" width="4.30" height="4.30" fill="#000" stroke="none" stroke-width="1"/>
<polygon points="404,271.45 406.35,275.85 401.65,275.85" fill="#000"/>
<circle cx="408.7" cy="273.8" r="2.2" fill="#000"/>
<rect x="400.20" y="282.30" width="4.60" height="4.60" fill="#fff" stroke="#000" stroke-width="1.1"/>
<line x1="400.2" y1="284.6" x2="404.8" y2="284.6" stroke="#000" stroke-width="0.8" />
<rect x="404.20" y="282.30" width="4.60" height="4.60" fill="#fff" stroke="#000" stroke-width="1.1"/>
<line x1="404.2" y1="284.6" x2="408.8" y2="284.6" stroke="#000" stroke-width="0.8" />
<circle cx="412.2" cy="284.6" r="2.2" fill="#000"/>
<polygon points="400.4,293.04999999999995 402.75,294.3425 402.75,296.4575 400.4,297.75 398.04999999999995,296.4575 398.04999999999995,294.3425" fill="#000"/>
<rect x="404.15" y="293.25" width="4.30" height="4.30" fill="#000" stroke="none" stroke-width="1"/>
<rect x="406.30" y="293.10" width="4.60" height="4.60" fill="#fff" stroke="#000" stroke-width="1.1"/>
<line x1="406.3" y1="295.4" x2="410.90000000000003" y2="295.4" stroke="#000" stroke-width="0.8" />
<circle cx="418.6" cy="295.4" r="2.2" fill="#000"/>
<circle cx="484.4" cy="295.4" r="2.2" fill="#000"/>
<polygon points="403,303.84999999999997 405.35,305.1425 405.35,307.2575 403,308.55 400.65,307.2575 400.65,305.1425" fill="#000"/>
<rect x="403.35" y="304.05" width="4.30" height="4.30" fill="#000" stroke="none" stroke-width="1"/>
<rect x="406.40" y="303.90" width="4.60" height="4.60" fill="#fff" stroke="#000" stroke-width="1.1"/>
<line x1="406.4" y1="306.2" x2="411.0" y2="306.2" stroke="#000" stroke-width="0.8" />
<circle cx="418.8" cy="306.2" r="2.3000000000000003" fill="#eee" stroke="#000" stroke-width="1.25"/>
<polygon points="403.5,314.75 405.85,316.0425 405.85,318.1575 403.5,319.45000000000005 401.15,318.1575 401.15,316.0425" fill="#000"/>
<polygon points="406,314.75 408.35,319.15000000000003 403.65,319.15000000000003" fill="#000"/>
<rect x="406.35" y="314.95" width="4.30" height="4.30" fill="#000" stroke="none" stroke-width="1"/>
<circle cx="421" cy="317.1" r="2.3000000000000003" fill="#eee" stroke="#000" stroke-width="1.25"/>
<rect x="406.85" y="325.75" width="4.30" height="4.30" fill="#000" stroke="none" stroke-width="1"/>
<circle cx="426.3" cy="327.9" r="2.3000000000000003" fill="#eee" stroke="#000" stroke-width="1.25"/>
<rect x="482.25" y="325.75" width="4.30" height="4.30" fill="#000" stroke="none" stroke-width="1"/>
<polygon points="409.2,336.34999999999997 411.55,340.75 406.84999999999997,340.75" fill="#000"/>
<rect x="408.30" y="336.40" width="4.60" height="4.60" fill="#fff" stroke="#000" stroke-width="1.1"/>
<line x1="408.3" y1="338.7" x2="412.90000000000003" y2="338.7" stroke="#000" stroke-width="0.8" />
<circle cx="434.3" cy="338.7" r="2.3000000000000003" fill="#eee" stroke="#000" stroke-width="1.25"/>
<circle cx="484.4" cy="338.7" r="2.3000000000000003" fill="#eee" stroke="#000" stroke-width="1.25"/>
<polygon points="412.5,347.15 414.85,351.55 410.15,351.55" fill="#000"/>
<rect x="418.20" y="347.20" width="4.60" height="4.60" fill="#fff" stroke="#000" stroke-width="1.1"/>
<line x1="418.2" y1="349.5" x2="422.8" y2="349.5" stroke="#000" stroke-width="0.8" />
<polygon points="429.8,347.15 432.15000000000003,348.4425 432.15000000000003,350.5575 429.8,351.85 427.45,350.5575 427.45,348.4425" fill="#000"/>
<polygon points="443.8,357.95 446.15000000000003,362.35 441.45,362.35" fill="#000"/>
<rect x="452.90" y="358.00" width="4.60" height="4.60" fill="#fff" stroke="#000" stroke-width="1.1"/>
<line x1="452.9" y1="360.3" x2="457.5" y2="360.3" stroke="#000" stroke-width="0.8" />
<polygon points="477.4,357.95 479.75,359.2425 479.75,361.3575 477.4,362.65000000000003 475.04999999999995,361.3575 475.04999999999995,359.2425" fill="#000"/>
</svg>
</body></html>
